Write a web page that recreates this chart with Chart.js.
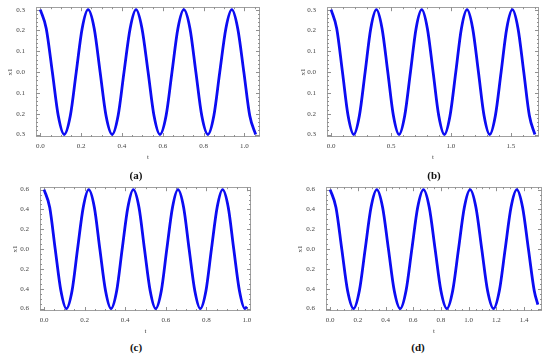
<!DOCTYPE html>
<html>
<head>
<meta charset="utf-8">
<script src="https://cdn.jsdelivr.net/npm/chart.js@4.4.1/dist/chart.umd.min.js"></script>
<style>
    body { margin: 0; background: #fff; width: 550px; height: 359px; position: relative; overflow: hidden; }
    canvas { position: absolute; }
    .tag { position: absolute; font: bold 11px "Liberation Serif", serif; line-height: 12px; color: #111; transform: translateX(-50%); }
</style>
</head>
<body>
<canvas id="chartA" width="275" height="165" style="left:0;top:0"></canvas>
<canvas id="chartB" width="275" height="165" style="left:275px;top:0"></canvas>
<canvas id="chartC" width="275" height="159" style="left:0;top:180px"></canvas>
<canvas id="chartD" width="275" height="159" style="left:275px;top:180px"></canvas>
<div class="tag" style="left:136px;top:169px">(a)</div>
<div class="tag" style="left:434px;top:169px">(b)</div>
<div class="tag" style="left:136px;top:341px">(c)</div>
<div class="tag" style="left:418px;top:341px">(d)</div>
<script>
// time samples (t) and displacement (x1)
const tA = [0, 0.029, 0.059, 0.088, 0.117, 0.147, 0.176, 0.205, 0.234, 0.264, 0.293, 0.322, 0.352, 0.381, 0.41, 0.44, 0.469, 0.498, 0.528, 0.557, 0.586, 0.616, 0.645, 0.674, 0.703, 0.733, 0.762, 0.791, 0.821, 0.85, 0.879, 0.909, 0.938, 0.967, 0.997, 1.026, 1.055];
const xA = [0.3, 0.21, 0, -0.21, -0.3, -0.21, 0, 0.21, 0.3, 0.21, 0, -0.21, -0.3, -0.21, 0, 0.21, 0.3, 0.21, 0, -0.21, -0.3, -0.21, 0, 0.21, 0.3, 0.21, 0, -0.21, -0.3, -0.21, 0, 0.21, 0.3, 0.21, 0, -0.21, -0.3];

const tB = [0, 0.047, 0.095, 0.142, 0.189, 0.236, 0.284, 0.331, 0.378, 0.425, 0.473, 0.52, 0.567, 0.614, 0.662, 0.709, 0.756, 0.803, 0.851, 0.898, 0.945, 0.992, 1.04, 1.087, 1.134, 1.181, 1.229, 1.276, 1.323, 1.37, 1.418, 1.465, 1.512, 1.559, 1.607, 1.654, 1.70];
const xB = [0.3, 0.21, 0, -0.21, -0.3, -0.21, 0, 0.21, 0.3, 0.21, 0, -0.21, -0.3, -0.21, 0, 0.21, 0.3, 0.21, 0, -0.21, -0.3, -0.21, 0, 0.21, 0.3, 0.21, 0, -0.21, -0.3, -0.21, 0, 0.21, 0.3, 0.21, 0, -0.21, -0.3];

const tC = [0, 0.028, 0.055, 0.083, 0.11, 0.138, 0.165, 0.193, 0.22, 0.248, 0.275, 0.303, 0.33, 0.358, 0.385, 0.413, 0.44, 0.468, 0.495, 0.523, 0.55, 0.578, 0.605, 0.633, 0.66, 0.688, 0.715, 0.743, 0.77, 0.798, 0.825, 0.853, 0.88, 0.908, 0.935, 0.963, 0.99, 1.0];
const xC = [0.6, 0.42, 0, -0.42, -0.6, -0.42, 0, 0.42, 0.6, 0.42, 0, -0.42, -0.6, -0.42, 0, 0.42, 0.6, 0.42, 0, -0.42, -0.6, -0.42, 0, 0.42, 0.6, 0.42, 0, -0.42, -0.6, -0.42, 0, 0.42, 0.6, 0.42, 0, -0.42, -0.6, -0.58];

const tD = [0, 0.042, 0.084, 0.126, 0.169, 0.211, 0.253, 0.295, 0.337, 0.379, 0.421, 0.463, 0.506, 0.548, 0.59, 0.632, 0.674, 0.716, 0.758, 0.8, 0.843, 0.885, 0.927, 0.969, 1.011, 1.053, 1.095, 1.137, 1.18, 1.222, 1.264, 1.306, 1.348, 1.39, 1.432, 1.474, 1.5];
const xD = [0.6, 0.42, 0, -0.42, -0.6, -0.42, 0, 0.42, 0.6, 0.42, 0, -0.42, -0.6, -0.42, 0, 0.42, 0.6, 0.42, 0, -0.42, -0.6, -0.42, 0, 0.42, 0.6, 0.42, 0, -0.42, -0.6, -0.42, 0, 0.42, 0.6, 0.42, 0, -0.42, -0.56];

// tick values
const xTicksA = [0, 0.2, 0.4, 0.6, 0.8, 1.0];
const xTicksB = [0, 0.5, 1.0, 1.5];
const xTicksC = [0, 0.2, 0.4, 0.6, 0.8, 1.0];
const xTicksD = [0, 0.2, 0.4, 0.6, 0.8, 1.0, 1.2, 1.4];
const yTicksAB = [-0.3, -0.2, -0.1, 0, 0.1, 0.2, 0.3];
const yTicksCD = [-0.6, -0.4, -0.2, 0, 0.2, 0.4, 0.6];

const serif = '"Liberation Serif", "DejaVu Serif", serif';

// Mathematica-like frame with inward ticks on all four sides
const frameTicks = {
    id: 'frameTicks',
    beforeDatasetsDraw(chart, args, opts) {
        const { ctx, chartArea: a, scales: { x, y } } = chart;
        ctx.save();
        ctx.strokeStyle = '#a0a0a0';
        ctx.lineWidth = 1;
        ctx.strokeRect(Math.round(a.left) + 0.5, Math.round(a.top) + 0.5, Math.round(a.right - a.left) - 1, Math.round(a.bottom - a.top) - 1);
        ctx.strokeStyle = '#909090';
        const marks = (scale, minor, isX) => {
            const start = Math.ceil(scale.min / minor - 1e-6);
            const end = Math.floor(scale.max / minor + 1e-6);
            for (let i = start; i <= end; i++) {
                const v = i * minor;
                const major = scale.ticks.some(tk => Math.abs(tk.value - v) < minor / 4);
                const len = major ? 4 : 2;
                const p = Math.round(scale.getPixelForValue(v)) + 0.5;
                ctx.beginPath();
                if (isX) {
                    ctx.moveTo(p, a.bottom); ctx.lineTo(p, a.bottom - len);
                    ctx.moveTo(p, a.top); ctx.lineTo(p, a.top + len);
                } else {
                    ctx.moveTo(a.left, p); ctx.lineTo(a.left + len, p);
                    ctx.moveTo(a.right, p); ctx.lineTo(a.right - len, p);
                }
                ctx.stroke();
            }
        };
        marks(x, opts.xMinor, true);
        marks(y, opts.yMinor, false);
        ctx.restore();
    }
};

function makeChart(id, t, xs, o) {
    const pts = t.map((v, i) => ({ x: v, y: xs[i] }));
    const span = t[t.length - 1] - t[0];
    const amp = o.yTicks[o.yTicks.length - 1];
    new Chart(document.getElementById(id), {
        type: 'line',
        data: {
            datasets: [{
                data: pts,
                borderColor: '#0c0cf2',
                borderWidth: 2.8,
                pointRadius: 0,
                fill: false,
                cubicInterpolationMode: 'monotone'
            }]
        },
        options: {
            responsive: false,
            animation: false,
            layout: { padding: { top: 7, right: o.right, left: 0, bottom: 0 } },
            plugins: {
                legend: { display: false },
                tooltip: { enabled: false },
                frameTicks: { xMinor: o.xMinor, yMinor: o.yMinor }
            },
            scales: {
                x: {
                    type: 'linear',
                    min: -0.02 * span,
                    max: t[t.length - 1] + 0.02 * span,
                    grid: { display: false },
                    border: { display: false },
                    afterBuildTicks: s => { s.ticks = o.xTicks.map(v => ({ value: v })); },
                    afterFit: s => { s.height = 28; },
                    ticks: {
                        autoSkip: false,
                        maxRotation: 0,
                        padding: -3,
                        color: '#444',
                        font: { family: serif, size: 7 },
                        callback: v => v.toFixed(1)
                    },
                    title: {
                        display: true,
                        text: 't',
                        color: '#444',
                        font: { family: serif, size: 7 },
                        padding: { top: 0, bottom: 4 }
                    }
                },
                y: {
                    type: 'linear',
                    min: -amp * 1.04,
                    max: amp * 1.04,
                    grid: { display: false },
                    border: { display: false },
                    afterBuildTicks: s => { s.ticks = o.yTicks.map(v => ({ value: v })); },
                    afterFit: s => { s.width = o.yw; },
                    ticks: {
                        autoSkip: false,
                        padding: 3,
                        color: '#444',
                        font: { family: serif, size: 7 },
                        callback: v => Math.abs(v).toFixed(1)
                    },
                    title: {
                        display: true,
                        text: 'x1',
                        color: '#444',
                        font: { family: serif, size: 7 },
                        padding: { top: o.titleLeft, bottom: 0 }
                    }
                }
            }
        },
        plugins: [frameTicks]
    });
}

makeChart('chartA', tA, xA, { xTicks: xTicksA, yTicks: yTicksAB, xMinor: 0.05, yMinor: 0.02, yw: 36, right: 15, titleLeft: 6 });
makeChart('chartB', tB, xB, { xTicks: xTicksB, yTicks: yTicksAB, xMinor: 0.1, yMinor: 0.02, yw: 52, right: 11, titleLeft: 24 });
makeChart('chartC', tC, xC, { xTicks: xTicksC, yTicks: yTicksCD, xMinor: 0.05, yMinor: 0.05, yw: 40, right: 24, titleLeft: 11 });
makeChart('chartD', tD, xD, { xTicks: xTicksD, yTicks: yTicksCD, xMinor: 0.05, yMinor: 0.05, yw: 51, right: 8, titleLeft: 21 });
</script>
</body>
</html>
